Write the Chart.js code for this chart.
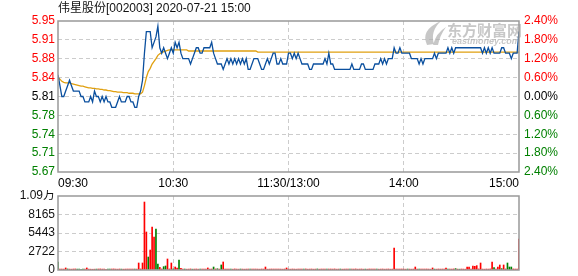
<!DOCTYPE html>
<html>
<head>
<meta charset="utf-8">
<script src="https://cdn.jsdelivr.net/npm/chart.js@4/dist/chart.umd.min.js"></script>
<style>
body { margin: 0; background: #fff; width: 578px; height: 276px; overflow: hidden; position: relative; }
#priceWrap { position: absolute; left: 0; top: 0; }
#volWrap { position: absolute; left: 0; top: 190px; }
canvas { display: block; }
</style>
</head>
<body>
<div id="priceWrap"><canvas id="priceChart" width="578" height="190"></canvas></div>
<div id="volWrap"><canvas id="volChart" width="578" height="86"></canvas></div>
<script>
const title = "伟星股份[002003] 2020-07-21 15:00";
const preClose = 5.81;

const timeTicks = [0, 60, 120, 180, 240];
const timeLabels = ["09:30", "10:30", "11:30/13:00", "14:00", "15:00"];

const pctSteps = [-2.4, -1.8, -1.2, -0.6, 0, 0.6, 1.2, 1.8, 2.4];
const priceTickLabels = ["5.67", "5.71", "5.74", "5.78", "5.81", "5.84", "5.88", "5.91", "5.95"];
const pctTickLabels = ["2.40%", "1.80%", "1.20%", "0.60%", "0.00%", "0.60%", "1.20%", "1.80%", "2.40%"];

const volTickValues = [0, 2722, 5443, 8165, 10887];
const volTickLabels = ["0", "2722", "5443", "8165", "1.09万"];

// one value per minute, 09:30 .. 11:30 / 13:00 .. 15:00
const prices = [
  5.85,5.83,5.81,5.81,5.82,5.83,5.84,5.83,5.82,5.82,
  5.82,5.82,5.81,5.81,5.80,5.80,5.80,5.81,5.80,5.82,
  5.81,5.81,5.80,5.81,5.80,5.81,5.80,5.80,5.79,5.79,
  5.79,5.80,5.81,5.80,5.80,5.80,5.81,5.81,5.80,5.80,
  5.79,5.79,5.81,5.82,5.84,5.89,5.93,5.93,5.93,5.90,
  5.91,5.92,5.94,5.90,5.89,5.90,5.89,5.88,5.89,5.90,
  5.89,5.91,5.90,5.91,5.89,5.88,5.88,5.88,5.88,5.87,
  5.88,5.89,5.90,5.90,5.89,5.89,5.90,5.90,5.90,5.90,
  5.91,5.89,5.88,5.87,5.87,5.87,5.86,5.87,5.88,5.87,
  5.88,5.87,5.88,5.87,5.88,5.87,5.88,5.87,5.88,5.86,
  5.86,5.87,5.88,5.88,5.88,5.87,5.86,5.86,5.87,5.88,
  5.87,5.88,5.89,5.89,5.87,5.87,5.88,5.87,5.87,5.87,
  5.89,5.89,5.88,5.89,5.88,5.89,5.88,5.87,5.87,5.87,
  5.87,5.86,5.86,5.87,5.87,5.87,5.87,5.87,5.87,5.88,
  5.87,5.89,5.87,5.87,5.86,5.86,5.86,5.86,5.86,5.86,
  5.86,5.86,5.86,5.87,5.86,5.86,5.86,5.86,5.87,5.87,
  5.86,5.86,5.86,5.86,5.86,5.87,5.87,5.87,5.88,5.87,
  5.88,5.87,5.88,5.88,5.88,5.90,5.89,5.89,5.90,5.89,
  5.89,5.89,5.89,5.89,5.88,5.88,5.88,5.88,5.87,5.88,
  5.87,5.88,5.88,5.88,5.88,5.88,5.89,5.88,5.89,5.89,
  5.89,5.89,5.89,5.90,5.89,5.90,5.89,5.90,5.90,5.90,
  5.90,5.90,5.90,5.90,5.90,5.90,5.90,5.90,5.90,5.90,
  5.90,5.89,5.90,5.89,5.90,5.89,5.90,5.89,5.89,5.89,
  5.89,5.90,5.90,5.89,5.89,5.89,5.88,5.89,5.89,5.89,
  5.93
];

const avgPrices = [
  5.845,5.842,5.838,5.836,5.835,5.835,5.835,5.834,5.833,5.832,
  5.831,5.830,5.829,5.829,5.828,5.827,5.826,5.826,5.825,5.825,
  5.824,5.824,5.823,5.823,5.822,5.822,5.821,5.821,5.820,5.819,
  5.819,5.818,5.818,5.818,5.817,5.817,5.817,5.816,5.816,5.816,
  5.815,5.815,5.815,5.815,5.818,5.830,5.845,5.856,5.862,5.870,
  5.875,5.880,5.886,5.889,5.891,5.893,5.894,5.895,5.896,5.896,
  5.896,5.896,5.896,5.896,5.896,5.896,5.896,5.896,5.894,5.894,
  5.894,5.894,5.894,5.894,5.894,5.894,5.894,5.894,5.894,5.894,
  5.894,5.894,5.894,5.894,5.894,5.894,5.894,5.894,5.894,5.894,
  5.894,5.894,5.894,5.894,5.894,5.894,5.894,5.894,5.894,5.894,
  5.894,5.894,5.894,5.894,5.892,5.892,5.892,5.892,5.892,5.892,
  5.892,5.892,5.892,5.892,5.892,5.892,5.892,5.892,5.892,5.892,
  5.892,5.892,5.892,5.892,5.892,5.892,5.892,5.892,5.892,5.892,
  5.892,5.892,5.892,5.892,5.892,5.892,5.892,5.892,5.892,5.892,
  5.892,5.892,5.892,5.892,5.892,5.892,5.892,5.892,5.892,5.892,
  5.892,5.892,5.892,5.892,5.892,5.892,5.892,5.892,5.892,5.892,
  5.892,5.892,5.892,5.892,5.892,5.892,5.892,5.892,5.892,5.892,
  5.892,5.892,5.892,5.892,5.892,5.892,5.892,5.892,5.892,5.892,
  5.892,5.892,5.892,5.892,5.892,5.892,5.892,5.892,5.892,5.892,
  5.892,5.892,5.892,5.892,5.892,5.892,5.892,5.892,5.892,5.892,
  5.892,5.892,5.892,5.892,5.892,5.892,5.892,5.892,5.892,5.892,
  5.892,5.892,5.892,5.892,5.892,5.892,5.892,5.892,5.892,5.892,
  5.892,5.892,5.892,5.892,5.892,5.892,5.892,5.892,5.892,5.892,
  5.892,5.892,5.892,5.892,5.892,5.892,5.892,5.892,5.892,5.892,
  5.892
];

const volumes = [
  1180,150,120,130,300,150,130,120,140,150,
  130,120,110,120,130,300,130,120,110,120,
  130,140,150,130,120,110,130,120,140,150,
  130,120,140,130,120,130,120,140,120,130,
  120,130,1030,150,1030,10000,5590,1910,2940,6320,
  4850,6030,880,390,150,490,590,1620,150,1030,
  150,440,300,1470,250,130,140,120,130,150,
  120,130,140,120,130,150,120,130,300,130,
  140,440,150,180,130,740,1180,130,120,140,
  130,120,150,130,120,140,130,120,130,140,
  120,130,140,120,130,120,140,130,440,120,
  130,140,120,130,120,150,130,120,140,300,
  130,120,140,130,120,130,140,120,130,150,
  120,130,140,120,130,150,120,130,140,120,
  130,120,140,130,150,120,130,140,120,130,
  120,140,130,120,130,150,120,130,140,120,
  130,120,140,130,120,130,150,120,130,140,
  120,130,140,120,130,3230,150,130,120,140,
  130,120,140,130,120,130,440,130,120,140,
  130,120,140,130,120,300,130,120,140,130,
  120,130,300,140,120,130,150,200,130,120,
  140,130,120,440,440,130,590,540,640,150,
  1030,130,120,140,130,150,1180,340,150,440,
  740,200,740,150,1030,440,440,150,150,150,
  4560
];

// minutes whose volume bar is green (price went down)
const greenBars = [0,5,10,11,12,13,20,26,27,33,40,47,51,52,55,56,60,63,66,70,74,81,83,85,90,95,100,
  128,135,140,147,152,160,166,182,188,196,203,207,209,227,231,234,235,236];

const RED = "#ff0000";
const GREEN = "#008000";
const DARK = "#000000";
const FONT = "'Liberation Sans', Arial, 'Noto Sans CJK SC', sans-serif";

const minP = preClose * (1 + pctSteps[0] / 100);
const maxP = preClose * (1 + pctSteps[pctSteps.length - 1] / 100);

function levelColor(i) {
  if (i < 4) return GREEN;
  if (i === 4) return DARK;
  return RED;
}

// keep the plot area where layout.padding puts it
function noPad(s) {
  s.paddingTop = 0;
  s.paddingBottom = 0;
  s.paddingLeft = 0;
  s.paddingRight = 0;
}

const frame = {
  id: "frame",
  afterDraw(chart) {
    const a = chart.chartArea;
    const ctx = chart.ctx;
    ctx.save();
    ctx.strokeStyle = "#999";
    ctx.lineWidth = 1.5;
    ctx.strokeRect(a.left, a.top, a.right - a.left, a.bottom - a.top);
    ctx.restore();
  }
};

const headerText = {
  id: "headerText",
  beforeDatasetsDraw(chart) {
    const ctx = chart.ctx;
    ctx.save();
    ctx.fillStyle = "rgba(175,175,175,0.7)";
    // rough logo swoosh
    ctx.beginPath();
    ctx.moveTo(427, 45);
    ctx.quadraticCurveTo(420, 30, 441, 21);
    ctx.quadraticCurveTo(430, 31, 434, 44);
    ctx.closePath();
    ctx.fill();
    ctx.beginPath();
    ctx.moveTo(433, 45);
    ctx.quadraticCurveTo(436, 33, 446, 27);
    ctx.quadraticCurveTo(440, 35, 438, 45);
    ctx.closePath();
    ctx.fill();
    ctx.font = "bold 15px 'Noto Sans CJK SC', sans-serif";
    ctx.textBaseline = "middle";
    ctx.fillText("东方财富网", 447, 30);
    ctx.font = "italic bold 9px 'Liberation Sans', sans-serif";
    ctx.fillText("eastmoney.com", 452, 42);
    ctx.restore();
  },
  afterDraw(chart) {
    const ctx = chart.ctx;
    ctx.save();
    ctx.fillStyle = "#111";
    ctx.font = "12px " + FONT;
    ctx.textBaseline = "middle";
    ctx.fillText(title, 58, 9);
    ctx.restore();
  }
};

new Chart(document.getElementById("priceChart"), {
  type: "line",
  data: {
    datasets: [
      {
        label: "价格",
        data: prices.map((p, i) => ({ x: i, y: p })),
        borderColor: "#0a4f9e",
        borderWidth: 1.3,
        pointRadius: 0,
        tension: 0,
        yAxisID: "y",
        order: 1
      },
      {
        label: "均价",
        data: avgPrices.map((p, i) => ({ x: i, y: p })),
        borderColor: "#e0a010",
        borderWidth: 1.3,
        pointRadius: 0,
        tension: 0,
        yAxisID: "y",
        order: 2
      }
    ]
  },
  options: {
    responsive: false,
    animation: false,
    layout: { padding: { top: 21, bottom: 0, left: 0, right: 0 } },
    plugins: { legend: { display: false }, tooltip: { enabled: false } },
    scales: {
      x: {
        type: "linear",
        min: 0,
        max: 240,
        afterBuildTicks: s => { s.ticks = timeTicks.map(v => ({ value: v })); },
        afterFit: s => { s.height = 18; noPad(s); },
        ticks: {
          align: "inner",
          autoSkip: false,
          maxRotation: 0,
          padding: 4,
          color: DARK,
          font: { size: 12, family: FONT },
          callback: (v, i) => timeLabels[i]
        },
        grid: {
          drawTicks: false,
          color: c => (c.index > 0 && c.index < timeTicks.length - 1) ? "#cccccc" : "rgba(0,0,0,0)"
        },
        border: { display: false, dash: [4, 3] }
      },
      y: {
        position: "left",
        min: minP,
        max: maxP,
        afterBuildTicks: s => { s.ticks = pctSteps.map(p => ({ value: preClose * (1 + p / 100) })); },
        afterFit: s => { s.width = 58; noPad(s); },
        ticks: {
          autoSkip: false,
          padding: 3,
          font: { size: 12, family: FONT },
          color: c => levelColor(c.index),
          callback: (v, i) => priceTickLabels[i]
        },
        grid: {
          drawTicks: false,
          color: c => (c.index > 0 && c.index < pctSteps.length - 1) ? "#cccccc" : "rgba(0,0,0,0)"
        },
        border: { display: false, dash: [4, 3] }
      },
      y2: {
        position: "right",
        min: minP,
        max: maxP,
        afterBuildTicks: s => { s.ticks = pctSteps.map(p => ({ value: preClose * (1 + p / 100) })); },
        afterFit: s => { s.width = 59; noPad(s); },
        ticks: {
          autoSkip: false,
          padding: 5,
          font: { size: 12, family: FONT },
          color: c => levelColor(c.index),
          callback: (v, i) => pctTickLabels[i]
        },
        grid: { display: false, drawTicks: false },
        border: { display: false }
      }
    }
  },
  plugins: [headerText, frame]
});

new Chart(document.getElementById("volChart"), {
  type: "bar",
  data: {
    datasets: [{
      label: "成交量",
      data: volumes.map((v, i) => ({ x: i, y: v })),
      backgroundColor: volumes.map((v, i) => greenBars.includes(i) ? GREEN : RED),
      barThickness: 1,
      grouped: false
    }]
  },
  options: {
    responsive: false,
    animation: false,
    layout: { padding: { top: 6, bottom: 6, left: 0, right: 59 } },
    plugins: { legend: { display: false }, tooltip: { enabled: false } },
    scales: {
      x: {
        type: "linear",
        min: 0,
        max: 240,
        offset: false,
        afterBuildTicks: s => { s.ticks = timeTicks.map(v => ({ value: v })); },
        afterFit: s => { s.height = 0; noPad(s); },
        ticks: { display: false, autoSkip: false },
        grid: {
          drawTicks: false,
          offset: false,
          color: c => (c.index > 0 && c.index < timeTicks.length - 1) ? "#cccccc" : "rgba(0,0,0,0)"
        },
        border: { display: false, dash: [4, 3] }
      },
      y: {
        position: "left",
        min: 0,
        max: volTickValues[volTickValues.length - 1],
        afterBuildTicks: s => { s.ticks = volTickValues.map(v => ({ value: v })); },
        afterFit: s => { s.width = 58; noPad(s); },
        ticks: {
          autoSkip: false,
          padding: 3,
          font: { size: 12, family: FONT },
          color: "#111",
          callback: (v, i) => volTickLabels[i]
        },
        grid: {
          drawTicks: false,
          color: c => (c.index > 0 && c.index < volTickValues.length - 1) ? "#cccccc" : "rgba(0,0,0,0)"
        },
        border: { display: false, dash: [4, 3] }
      }
    }
  },
  plugins: [frame]
});
</script>
</body>
</html>
